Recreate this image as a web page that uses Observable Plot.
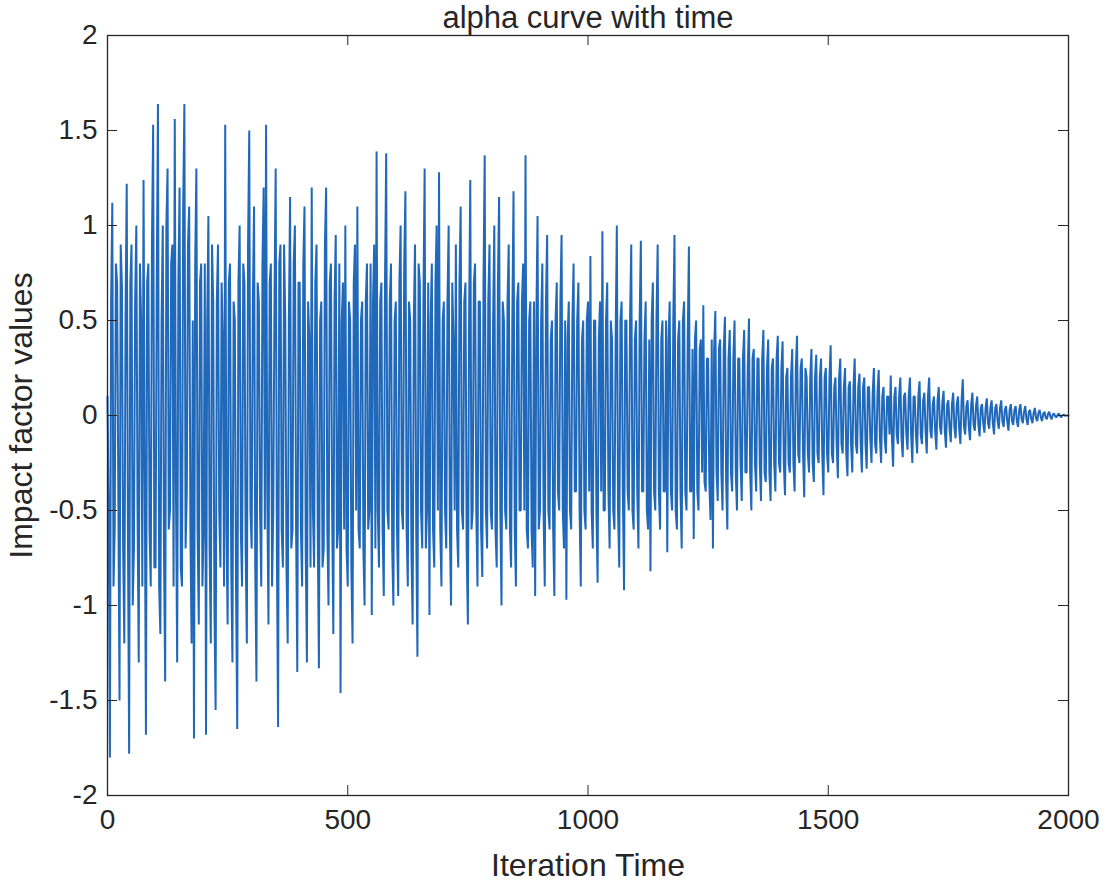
<!DOCTYPE html>
<html>
<head>
<meta charset="utf-8">
<script src="https://cdn.jsdelivr.net/npm/d3@7"></script>
<script src="https://cdn.jsdelivr.net/npm/@observablehq/plot@0.6"></script>
<style>
  html, body { margin: 0; padding: 0; background: #fff; }
  #chart { width: 1105px; height: 885px; }
</style>
</head>
<body>
<div id="chart"></div>
<script>
const titleText = "alpha curve with time";
const xLabel = "Iteration Time";
const yLabel = "Impact factor values";
const xTicks = [0, 500, 1000, 1500, 2000];
const yTicks = [-2, -1.5, -1, -0.5, 0, 0.5, 1, 1.5, 2];
const sampleStep = 2.5; // outer and inner readings alternate every 2.5 iterations

// Outer swings at iterations 0, 5, 10, ... (0..495)
const alphaA = [
  0.1, -1.8, 1.12, -0.6, 0.7, -1.5, 0.68, -1.2, 1.22, -1.78, 0.9, -0.7, 1.0, -1.3, 0.5, 1.24, -1.68, 0.8, -0.9, 1.53,
  -0.8, 1.64, -1.15, 1.0, -1.4, 1.3, -0.5, 0.9, 1.56, -1.3, 1.2, -0.9, 1.64, -0.4, 1.1, -1.2, -1.7, 1.3, -1.1, 0.8,
  -0.6, -1.68, 1.05, -1.2, 0.6, -1.55, 0.9, -0.8, 0.4, 1.53, -1.1, 0.8, -1.3, 0.5, -1.65, 1.0, -0.9, 0.7, -1.2, 1.5,
  -0.7, 1.1, -1.4, 0.6, -0.9, 1.2, 1.53, -1.1, 0.8, -0.5, 1.3, -1.64, 0.9, -0.8, 0.5, -1.2, 1.15, -0.6, 1.0, -1.35,
  0.7, -0.9, 1.1, -1.3, 0.4, 1.2, -0.8, 0.9, -1.33, 0.6, -0.7, 1.2, -1.0, 0.8, -1.15, 0.95, -0.6, -1.46, 0.7, 1.0
];
// 500..995
const alphaB = [
  -0.9, 0.5, -1.2, 0.9, 1.1, -0.7, 0.6, -1.0, 0.8, -0.5, -1.05, 0.9, 1.39, -0.8, 0.7, -0.95, 1.38, -0.6, 0.8, -1.0,
  0.6, -0.95, 1.0, -0.6, 1.18, -0.9, 0.5, -1.1, 0.9, -1.27, 0.7, -0.7, 1.3, -0.5, -1.05, 0.8, -0.8, 1.0, 1.28, -0.9,
  0.6, -0.7, 1.0, -1.0, 0.4, 0.9, -0.8, 1.1, -0.6, 0.7, -1.1, 1.24, -0.5, 0.8, -0.9, 0.6, -0.85, 1.37, -0.7, 0.9,
  -0.6, 1.0, -0.8, 1.15, -1.0, 0.5, -0.6, 0.9, -0.8, 1.18, -0.9, 0.7, -0.5, 0.8, 1.37, -0.7, 0.6, -0.8, -0.95, 1.05,
  -0.5, 0.8, -0.9, 0.95, -0.6, 0.5, -0.95, 0.7, -0.5, 0.95, -0.7, -0.97, 0.6, -0.6, 0.8, -0.4, 0.7, -0.9, 0.5, -0.6
];
// 1000..1495
const alphaC = [
  0.6, 0.84, -0.7, 0.5, -0.88, 0.6, 0.97, -0.5, 0.7, -0.7, 0.4, -0.6, 1.0, -0.8, 0.6, -0.92, 0.5, -0.5, 0.9, -0.6,
  0.5, -0.7, 0.92, -0.4, 0.6, -0.6, -0.82, 0.7, -0.5, 0.9, -0.6, 0.5, -0.4, -0.72, 0.6, -0.5, 0.95, -0.6, 0.5, -0.7,
  0.6, -0.5, 0.89, -0.4, -0.65, 0.5, -0.5, 0.4, 0.58, -0.4, 0.3, -0.55, -0.7, 0.55, -0.45, 0.4, -0.5, 0.52, -0.6, 0.45,
  -0.4, 0.5, -0.5, 0.3, -0.45, 0.45, -0.3, 0.51, -0.5, 0.35, -0.4, 0.3, -0.45, 0.45, -0.35, 0.4, -0.45, 0.3, -0.4, 0.42,
  -0.3, 0.39, -0.42, 0.25, -0.3, 0.35, -0.4, 0.42, -0.25, 0.3, -0.43, 0.2, -0.3, 0.35, -0.35, 0.32, -0.25, 0.3, -0.42, 0.25
];
// 1500..2000
const alphaD = [
  -0.3, 0.37, -0.25, 0.2, -0.33, 0.3, -0.2, 0.25, -0.32, 0.18, -0.3, 0.3, -0.2, 0.22, -0.3, 0.2, -0.28, 0.15, -0.25, 0.25,
  -0.2, 0.24, -0.25, 0.15, -0.2, 0.1, 0.21, -0.27, 0.15, -0.15, 0.2, -0.22, 0.12, -0.18, 0.2, -0.25, 0.1, -0.2, 0.18, -0.15,
  0.12, -0.2, 0.2, -0.12, 0.1, -0.18, 0.15, -0.1, 0.13, -0.17, 0.08, -0.14, 0.12, -0.12, 0.1, -0.15, 0.19, -0.1, 0.08, -0.13,
  0.12, -0.08, 0.1, -0.11, 0.06, -0.09, 0.09, -0.07, 0.08, -0.1, 0.06, -0.07, 0.08, -0.06, 0.05, -0.08, 0.06, -0.05, 0.05, -0.06,
  0.06, -0.04, 0.05, -0.05, 0.03, -0.04, 0.04, -0.03, 0.03, -0.03, 0.02, -0.02, 0.02, -0.02, 0.01, -0.01, 0.01, -0.01, 0.005, 0, 0
];

// Inner (dense core) readings at iterations 2.5, 7.5, 12.5, ... (2.5..497.5)
const innerA = [
  -0.5, 0.6, -0.9, 0.8, -0.4, 0.9, -0.7, 0.5, -0.6, 0.7, -1.0, 0.6, -0.5, 0.8, -0.9, -0.3, 0.7, -0.6, 0.9, -0.8,
  0.7, -0.9, 0.5, -0.7, 1.0, -0.6, 0.8, -0.9, -0.4, 0.7, -0.8, 1.1, -0.7, 0.9, -0.6, 0.5, 0.8, -0.6, 0.7, -0.9,
  0.8, 0.5, -0.7, 0.9, -1.0, 0.6, -0.5, 0.7, -0.9, -0.6, 0.7, -0.8, 0.6, -0.9, 0.7, -0.6, 0.8, -0.7, 0.9, -0.5,
  0.6, -0.8, 0.7, -0.5, 0.8, -0.6, -0.4, 0.7, -0.9, 0.6, -0.7, 0.8, -0.6, 0.9, -0.8, 0.5, -0.7, 0.8, -0.6, 0.7,
  -0.6, 0.8, -0.7, 0.6, -0.8, -0.5, 0.7, -0.6, 0.5, -0.8, 0.9, -0.6, 0.7, -0.5, 0.6, -0.7, 0.8, 0.5, -0.6, -0.7
];
// 502.5..997.5
const innerB = [
  0.6, -0.8, 0.7, -0.5, -0.6, 0.5, -0.7, 0.6, -0.6, 0.8, 0.6, -0.7, -0.5, 0.6, -0.6, 0.7, -0.5, 0.6, -0.7, 0.5,
  -0.6, 0.7, -0.5, 0.8, -0.6, 0.6, -0.7, 0.5, -0.6, 0.8, -0.5, 0.6, -0.7, 0.7, 0.5, -0.6, 0.7, -0.5, -0.6, 0.5,
  -0.5, 0.6, -0.6, 0.7, -0.5, -0.6, 0.7, -0.5, 0.6, -0.7, 0.5, -0.6, 0.7, -0.5, 0.6, -0.6, 0.7, -0.5, 0.6, -0.5,
  0.5, -0.6, 0.7, -0.5, 0.6, -0.5, 0.6, -0.6, 0.5, -0.6, 0.6, -0.5, 0.6, -0.5, -0.6, 0.5, -0.6, 0.6, 0.5, -0.6,
  0.5, -0.5, 0.6, -0.5, 0.4, -0.6, 0.5, -0.4, 0.6, -0.5, 0.5, 0.4, -0.5, 0.5, -0.4, 0.5, -0.5, 0.4, -0.5, 0.5
];
// 1002.5..1497.5
const innerC = [
  -0.4, -0.5, 0.5, -0.5, 0.4, -0.4, -0.5, 0.5, -0.4, 0.5, -0.5, 0.4, -0.5, 0.5, -0.4, 0.5, -0.4, 0.5, -0.5, 0.4,
  -0.4, 0.5, -0.4, 0.4, -0.5, 0.4, 0.5, -0.4, 0.5, -0.4, 0.4, -0.4, 0.5, 0.4, -0.4, 0.5, -0.5, 0.4, -0.4, 0.5,
  -0.4, 0.4, -0.4, 0.35, 0.4, -0.4, 0.35, -0.3, -0.35, 0.3, -0.35, 0.4, 0.35, -0.3, 0.35, -0.3, 0.35, -0.35, 0.3, -0.3,
  0.3, -0.3, 0.3, -0.25, 0.3, -0.3, 0.25, -0.3, 0.3, -0.25, 0.3, -0.25, 0.3, -0.3, 0.25, -0.3, 0.25, -0.25, 0.3, -0.25,
  0.25, -0.25, 0.2, -0.25, 0.2, -0.25, 0.25, -0.2, 0.25, -0.2, 0.25, -0.2, 0.2, -0.25, 0.2, -0.2, 0.2, -0.2, 0.2, -0.2
];
// 1502.5..1997.5
const innerD = [
  0.2, -0.2, 0.15, -0.15, 0.2, -0.15, 0.15, -0.2, 0.15, -0.15, 0.15, -0.15, 0.15, -0.15, 0.15, -0.15, 0.15, -0.12, 0.12, -0.15,
  0.12, -0.12, 0.1, -0.12, 0.1, -0.1, -0.12, 0.1, -0.1, 0.1, -0.12, 0.1, -0.1, 0.1, -0.1, 0.1, -0.1, 0.1, -0.1, 0.08,
  -0.08, 0.1, -0.08, 0.06, -0.08, 0.08, -0.06, 0.07, -0.08, 0.06, -0.07, 0.06, -0.06, 0.06, -0.07, 0.08, -0.06, 0.05, -0.06, 0.06,
  -0.05, 0.05, -0.05, 0.04, -0.04, 0.04, -0.04, 0.04, -0.04, 0.04, -0.03, 0.04, -0.03, 0.03, -0.03, 0.03, -0.03, 0.03, -0.03, 0.03,
  -0.02, 0.02, -0.02, 0.02, -0.02, 0.015, -0.015, 0.015, -0.01, 0.01, -0.01, 0.01, -0.008, 0.006, -0.005, 0.004, -0.003, 0.002, -0.001, 0
];

const outer = [...alphaA, ...alphaB, ...alphaC, ...alphaD];
const inner = [...innerA, ...innerB, ...innerC, ...innerD];
const alphaValues = outer.flatMap((v, i) => i < inner.length ? [v, inner[i]] : [v]);
const data = alphaValues.map((v, i) => ({iteration: i * sampleStep, alpha: v}));

const W = 1105, H = 885;
const mL = 107, mR = 37, mT = 35, mB = 90;
const innerW = W - mL - mR, innerH = H - mT - mB;
const tickLen = 10;
const font = "'Liberation Sans', Arial, sans-serif";
const ink = "#262626";
const fmt = d => String(d);

const chart = Plot.plot({
  width: W,
  height: H,
  marginLeft: mL,
  marginRight: mR,
  marginTop: mT,
  marginBottom: mB,
  style: {fontFamily: font, fontSize: "28px", color: ink, background: "#fff"},
  x: {domain: [0, 2000], ticks: xTicks, tickFormat: fmt, label: null},
  y: {domain: [-2, 2], ticks: yTicks, tickFormat: fmt, label: null},
  marks: [
    Plot.lineY(data, {x: "iteration", y: "alpha", stroke: "#2068ba", strokeWidth: 2, strokeLinejoin: "miter", strokeMiterlimit: 1}),
    // inward tick marks on all four sides
    Plot.ruleY(yTicks, {insetRight: innerW - tickLen, stroke: ink}),
    Plot.ruleY(yTicks, {insetLeft: innerW - tickLen, stroke: ink}),
    Plot.ruleX(xTicks, {insetTop: innerH - tickLen, stroke: ink}),
    Plot.ruleX(xTicks, {insetBottom: innerH - tickLen, stroke: ink}),
    Plot.frame({stroke: ink, strokeWidth: 1.3}),
    // tick labels
    Plot.axisX({anchor: "bottom", ticks: xTicks, tickSize: 0, tickPadding: 14, tickFormat: fmt, label: null, fill: ink}),
    Plot.axisY({anchor: "left", ticks: yTicks, tickSize: 0, tickPadding: 10, tickFormat: fmt, label: null, fill: ink}),
    // axis titles and chart title
    Plot.text([xLabel], {frameAnchor: "bottom", lineAnchor: "middle", dy: 70, text: d => d, fontSize: 32, fill: ink}),
    Plot.text([yLabel], {frameAnchor: "left", textAnchor: "middle", lineAnchor: "middle", dx: -86, rotate: -90, text: d => d, fontSize: 32, fill: ink}),
    Plot.text([titleText], {frameAnchor: "top", lineAnchor: "middle", dy: -17, text: d => d, fontSize: 31, fill: ink})
  ]
});
document.getElementById("chart").appendChild(chart);
</script>
</body>
</html>
